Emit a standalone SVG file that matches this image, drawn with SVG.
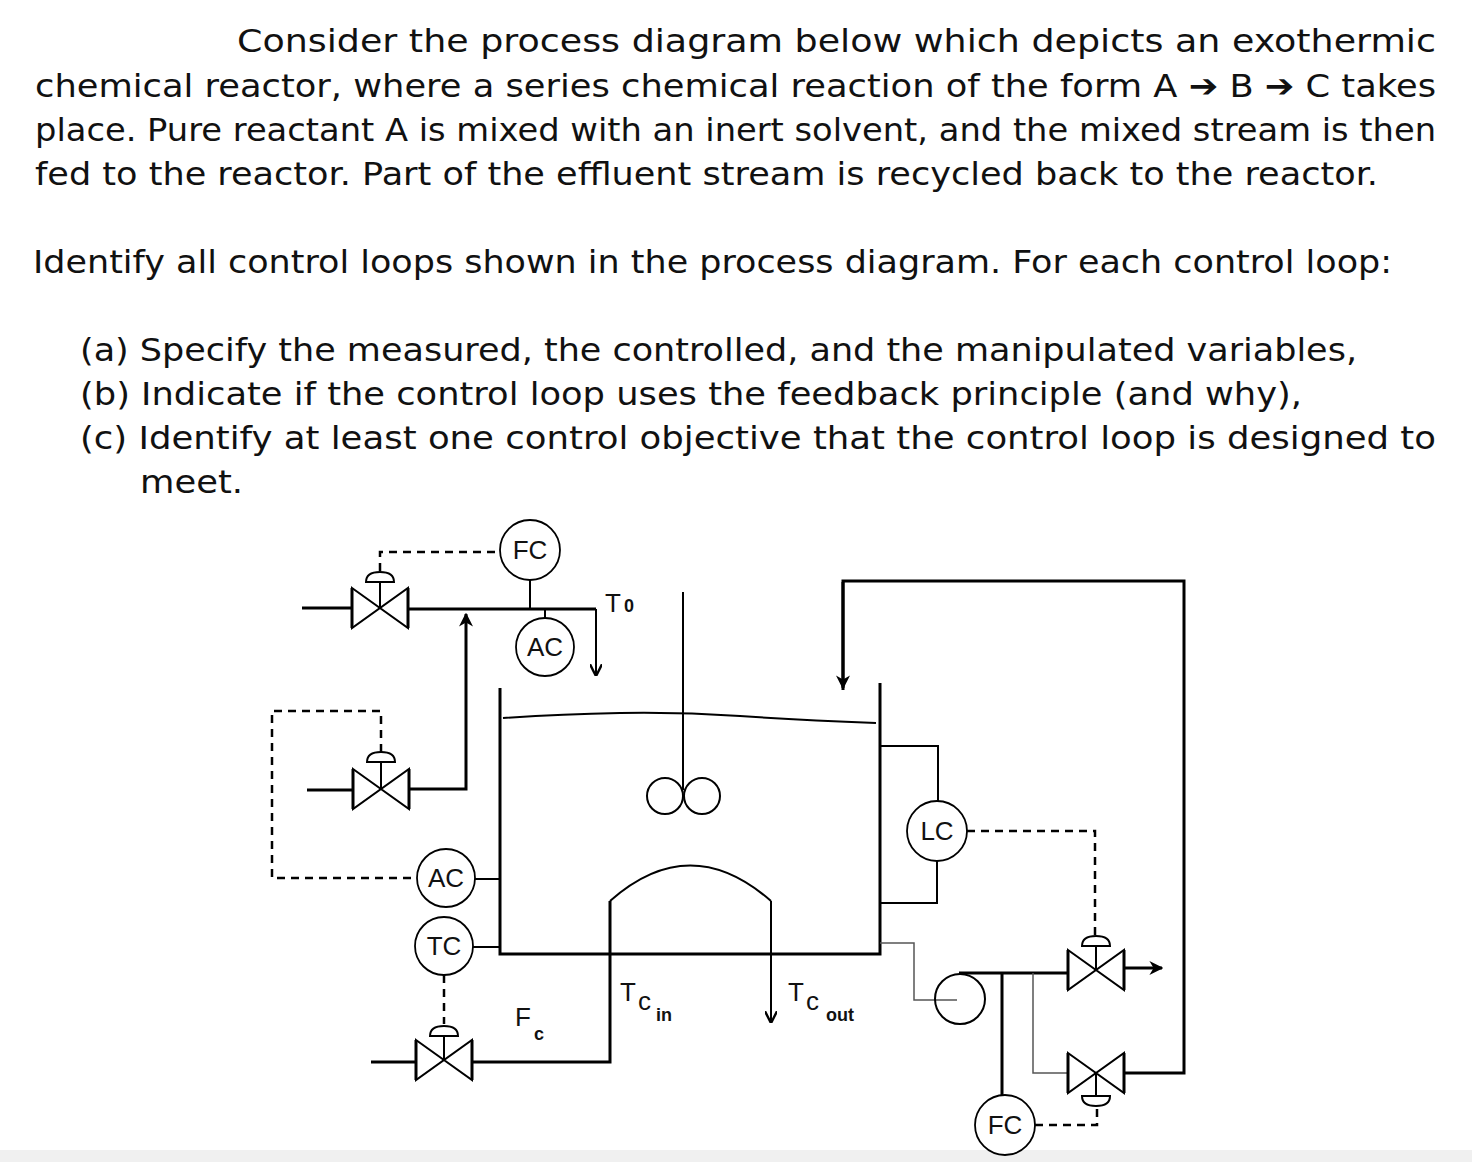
<svg xmlns="http://www.w3.org/2000/svg" width="1472" height="1162" viewBox="0 0 1472 1162">
<style>
.t{font-family:"DejaVu Sans","Liberation Sans",sans-serif;font-size:32px;fill:#111}
.l{font-family:"Liberation Sans",Arial,sans-serif;font-size:26px;fill:#111}
.s{font-family:"Liberation Sans",Arial,sans-serif;font-size:18px;fill:#111;font-weight:bold}
.p{stroke:#000;stroke-width:3;fill:none}
.n{stroke:#000;stroke-width:2;fill:none}
.h{stroke:#555;stroke-width:1.5;fill:none}
.d{stroke:#000;stroke-width:2.5;fill:none;stroke-dasharray:8,6}
.c{stroke:#000;stroke-width:1.8;fill:#fff}
.v{stroke:#000;stroke-width:2;fill:#fff}
</style>
<defs>
<marker id="ah" viewBox="0 0 10 10" refX="9" refY="5" markerWidth="12" markerHeight="12" markerUnits="userSpaceOnUse" orient="auto"><path d="M0,0 L10,5 L0,10" fill="none" stroke="#000" stroke-width="2"/></marker>
<marker id="af" viewBox="0 0 10 10" refX="9" refY="5" markerWidth="14" markerHeight="14" markerUnits="userSpaceOnUse" orient="auto"><path d="M0,0 L10,5 L0,10 L3,5z" fill="#000"/></marker>
<g id="valve"><path d="M-28,-20 L28,20 L28,-20 L-28,20 Z" class="v"/><path d="M-28,-20 V20 M28,-20 V20" stroke="#000" stroke-width="3"/></g>
<path id="dome" d="M-14,4 Q-14,-6 0,-6 Q14,-6 14,4 Z" class="v"/>
</defs>
<rect width="1472" height="1162" fill="#fff"/>
<rect y="1150" width="1472" height="12" fill="#f0f0f0"/>
<g id="text">
<text class="t" x="237" y="52" textLength="1199" lengthAdjust="spacingAndGlyphs">Consider the process diagram below which depicts an exothermic</text>
<text class="t" x="35" y="97" textLength="1401" lengthAdjust="spacingAndGlyphs">chemical reactor, where a series chemical reaction of the form A ➔ B ➔ C takes</text>
<text class="t" x="35" y="141" textLength="1401" lengthAdjust="spacingAndGlyphs">place. Pure reactant A is mixed with an inert solvent, and the mixed stream is then</text>
<text class="t" x="35" y="185" textLength="1343" lengthAdjust="spacingAndGlyphs">fed to the reactor. Part of the effluent stream is recycled back to the reactor.</text>
<text class="t" x="33" y="273" textLength="1359" lengthAdjust="spacingAndGlyphs">Identify all control loops shown in the process diagram.  For each control loop:</text>
<text class="t" x="80" y="361" textLength="1277" lengthAdjust="spacingAndGlyphs">(a) Specify the measured, the controlled, and the manipulated variables,</text>
<text class="t" x="80" y="405" textLength="1222" lengthAdjust="spacingAndGlyphs">(b) Indicate if the control loop uses the feedback principle (and why),</text>
<text class="t" x="80" y="449" textLength="1356" lengthAdjust="spacingAndGlyphs">(c) Identify at least one control objective that the control loop is designed to</text>
<text class="t" x="140" y="493" textLength="103" lengthAdjust="spacingAndGlyphs">meet.</text>
</g>
<g id="connectors">
<path class="p" d="M302,608 H352 M408,609 H596"/>
<path class="n" d="M596,609 V675" marker-end="url(#ah)"/>
<path class="p" d="M307,790 H352 M409,789 H466 V614" marker-end="url(#af)"/>
<path class="n" d="M530,580 V609 M545,609 V618"/>
<path class="d" d="M380,571 V552 H500"/>
<path class="d" d="M381,752 V711 H272 V878 H417"/>
<path class="n" d="M475,879 H500 M473,947 H500"/>
<path class="d" d="M444,975 V1024"/>
<path class="p" d="M371,1062 H416 M473,1062 H610 V901"/>
<path class="n" d="M610,901 Q690,830 771,901"/>
<path class="n" d="M771,901 V1022" marker-end="url(#ah)"/>
<path class="n" d="M683,592 V790"/>
<path class="p" d="M843,690 V581 H1184 V1073 H1124"/>
<path class="p" d="M843,582 V688" marker-end="url(#af)"/>
<path class="p" d="M500,688 V954 H880 V683"/>
<path class="n" d="M503,718 Q560,714 620,713 T740,716 T876,723"/>
<path class="n" d="M880,746 H938 V801 M937,861 V903 H880"/>
<path class="d" d="M967,831 H1095 V935"/>
<path class="h" d="M880,943 H914 V1000 H957"/>
<path class="p" d="M959,973 H1068 M1002,973 V1095"/>
<path class="h" d="M1033,973 V1073 H1068"/>
<path class="p" d="M1125,968 H1162" marker-end="url(#af)"/>
<path class="d" d="M1035,1125 H1097 V1108"/>
</g>
<g id="valve-top"><use href="#valve" x="380" y="608"/><path class="n" d="M380,608 V578"/><use href="#dome" x="380" y="578"/></g>
<g id="valve-mid"><use href="#valve" x="381" y="789"/><path class="n" d="M381,789 V758"/><use href="#dome" x="381" y="758"/></g>
<g id="valve-cool"><use href="#valve" x="444" y="1060"/><path class="n" d="M444,1060 V1032"/><use href="#dome" x="444" y="1032"/></g>
<g id="valve-out"><use href="#valve" x="1096" y="970"/><path class="n" d="M1096,970 V942"/><use href="#dome" x="1096" y="942"/></g>
<g id="valve-rec"><use href="#valve" x="1096" y="1073"/><path class="n" d="M1096,1073 V1100"/><use href="#dome" x="1096" y="1100" transform="rotate(180 1096 1100)"/></g>
<g id="impeller"><circle class="n" cx="665" cy="796" r="18"/><circle class="n" cx="702" cy="796" r="18"/></g>
<g id="pump"><circle class="n" cx="960" cy="999" r="25"/></g>
<g id="fc-top"><circle class="c" cx="530" cy="550" r="30"/><text class="l" x="530" y="559" text-anchor="middle">FC</text></g>
<g id="ac-top"><circle class="c" cx="545" cy="647" r="29"/><text class="l" x="545" y="656" text-anchor="middle">AC</text></g>
<g id="ac-low"><circle class="c" cx="446" cy="878" r="29"/><text class="l" x="446" y="887" text-anchor="middle">AC</text></g>
<g id="tc"><circle class="c" cx="444" cy="946" r="29"/><text class="l" x="444" y="955" text-anchor="middle">TC</text></g>
<g id="lc"><circle class="c" cx="937" cy="831" r="30"/><text class="l" x="937" y="840" text-anchor="middle">LC</text></g>
<g id="fc-low"><circle class="c" cx="1005" cy="1125" r="30"/><text class="l" x="1005" y="1134" text-anchor="middle">FC</text></g>
<g id="labels">
<text class="l" x="605" y="612">T</text><text class="s" x="624" y="612">0</text>
<text class="l" x="620" y="1001">T</text><text class="l" x="638" y="1010" font-size="24">c</text><text class="s" x="656" y="1021">in</text>
<text class="l" x="788" y="1001">T</text><text class="l" x="806" y="1010" font-size="24">c</text><text class="s" x="826" y="1021">out</text>
<text class="l" x="515" y="1026">F</text><text class="s" x="534" y="1040">c</text>
</g>
</svg>
